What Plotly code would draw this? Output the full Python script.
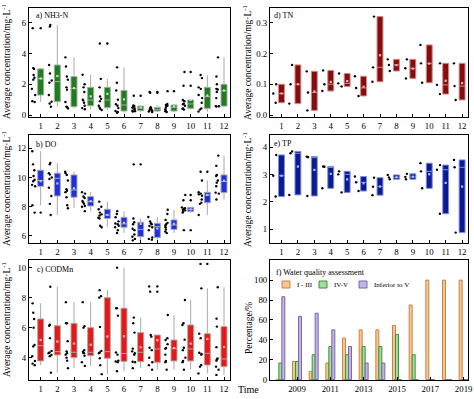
import numpy as np
import plotly.graph_objects as go

# ---------------- data ----------------
months = list(range(1, 13))

# a) NH3-N  (samples per month, mg/L)
nh3n = [
    [0.85, 0.9, 1.3, 1.7, 2.3, 2.42, 2.6, 3.0, 3.05, 5.65],
    [0.54, 0.75, 0.87, 1.3, 2.1, 2.24, 2.7, 3.25, 5.75, 5.85],
    [0.43, 0.5, 0.54, 0.85, 1.65, 1.8, 2.3, 2.5, 3.15, 3.75],
    [0.37, 0.45, 0.6, 0.8, 0.95, 1.0, 1.5, 1.8, 2.0, 2.62],
    [0.33, 0.4, 0.48, 0.6, 0.9, 1.05, 1.2, 1.8, 2.35, 4.65],
    [0.15, 0.2, 0.26, 0.45, 0.6, 0.7, 1.0, 1.6, 2.1, 3.1],
    [0.22, 0.25, 0.28, 0.35, 0.42, 0.48, 0.5, 0.58, 0.62, 1.25],
    [0.2, 0.22, 0.26, 0.3, 0.35, 0.39, 0.45, 0.5, 1.45, 1.5],
    [0.2, 0.25, 0.26, 0.35, 0.45, 0.55, 0.6, 0.65, 0.72, 1.55],
    [0.35, 0.4, 0.43, 0.6, 0.7, 0.74, 0.9, 0.98, 1.9, 2.8],
    [0.22, 0.35, 0.43, 0.8, 1.1, 1.3, 1.7, 1.8, 2.4, 2.6],
    [0.55, 0.57, 0.58, 1.1, 1.5, 1.66, 1.7, 2.0, 2.5, 3.75],
]

# b) DO
do = [
    [7.6, 8.1, 9.4, 9.5, 9.75, 9.85, 10.1, 10.5, 10.9, 11.8],
    [7.44, 8.2, 8.74, 9.3, 9.9, 10.0, 10.2, 10.3, 10.9, 11.0],
    [7.9, 8.1, 8.65, 9.0, 9.1, 9.2, 9.8, 10.18, 10.3, 10.4],
    [7.7, 8.0, 8.05, 8.2, 8.3, 8.4, 8.6, 8.7, 8.9, 9.0],
    [6.6, 6.7, 7.2, 7.25, 7.4, 7.48, 7.6, 7.83, 8.0, 8.35],
    [6.2, 6.4, 6.6, 6.7, 6.8, 6.85, 7.0, 7.28, 7.5, 7.7],
    [5.7, 5.8, 5.95, 6.1, 6.4, 6.5, 6.8, 6.94, 7.2, 10.9],
    [5.75, 5.8, 5.9, 6.4, 6.6, 6.68, 6.8, 6.87, 7.0, 7.3],
    [6.2, 6.3, 6.45, 6.6, 6.7, 6.8, 6.9, 7.1, 7.5, 7.8],
    [6.4, 7.6, 7.67, 7.75, 7.8, 7.85, 7.9, 7.96, 8.45, 8.8],
    [7.44, 8.2, 8.28, 8.5, 8.75, 8.85, 8.9, 8.99, 9.8, 10.4],
    [8.5, 8.9, 8.97, 9.4, 9.65, 9.8, 10.1, 10.18, 10.8, 11.5],
]

# c) CODMn
codmn = [
    [3.5, 3.6, 3.78, 4.1, 4.75, 4.85, 6.0, 6.58, 7.0, 7.62],
    [3.0, 4.1, 4.18, 4.3, 4.35, 4.45, 5.3, 6.13, 6.2, 8.73],
    [3.3, 3.8, 4.0, 4.2, 4.3, 4.42, 5.1, 6.29, 6.3, 7.7],
    [3.45, 3.7, 4.13, 4.3, 4.32, 4.4, 4.5, 6.0, 6.1, 7.7],
    [2.9, 3.5, 3.96, 4.3, 4.35, 4.45, 6.05, 8.0, 8.1, 8.5],
    [3.1, 3.7, 3.75, 3.8, 4.2, 4.35, 6.8, 7.3, 7.3, 10.0],
    [3.3, 3.7, 3.73, 4.2, 4.3, 4.42, 4.6, 5.67, 6.3, 6.67],
    [3.2, 3.5, 3.69, 4.0, 4.5, 4.66, 5.4, 5.51, 8.4, 8.75],
    [3.2, 3.7, 3.78, 4.2, 4.6, 4.64, 4.9, 5.18, 5.3, 6.84],
    [3.2, 3.7, 3.78, 4.0, 4.5, 4.66, 5.2, 6.18, 6.3, 7.84],
    [2.95, 3.4, 3.51, 4.2, 4.25, 4.33, 5.3, 5.6, 8.62, 10.25],
    [2.85, 3.2, 3.4, 3.8, 3.88, 3.94, 4.7, 6.07, 6.6, 8.69],
]

# d) TN
tn = [
    [0.04, 0.07, 0.1],
    [0.037, 0.1, 0.163],
    [0.015, 0.073, 0.142],
    [0.078, 0.1, 0.145],
    [0.093, 0.103, 0.135],
    [0.062, 0.088, 0.126],
    [0.108, 0.155, 0.32],
    [0.143, 0.163, 0.181],
    [0.119, 0.152, 0.181],
    [0.105, 0.168, 0.228],
    [0.068, 0.098, 0.168],
    [0.049, 0.094, 0.168],
]

# e) TP
tp = [
    [2.2, 2.96, 3.72],
    [2.26, 3.78, 3.85],
    [2.22, 3.64, 3.66],
    [2.5, 3.29, 3.3],
    [2.35, 3.01, 3.12],
    [2.4, 2.72, 2.93],
    [2.25, 2.56, 2.89],
    [2.83, 2.9, 2.99],
    [2.83, 2.92, 3.03],
    [2.5, 3.12, 3.42],
    [1.57, 3.18, 3.35],
    [0.88, 3.27, 3.54],
]

# f) water quality assessment (%)
years = list(range(2008, 2020))
year_ticks = [2009, 2011, 2013, 2015, 2017, 2019]
grade_1_3 = [0, 18.2, 8.3, 16.7, 41.7, 50, 50, 54.5, 75, 100, 100, 100]
grade_4_5 = [16.7, 18.2, 25, 33.3, 25, 33.3, 33.3, 45.5, 25, 0, 0, 0]
grade_inf5 = [83.3, 63.6, 66.7, 50, 33.3, 16.7, 16.7, 0, 0, 0, 0, 0]
grade_names = ["I - III", "IV-V", "Inferior to V"]

# ---------------- figure ----------------
W, H = 474, 399
FONT = "Liberation Serif"

def px_x(p):
    return p / W

def px_y(p):
    return 1 - p / H

fig = go.Figure()

def add_box_panel(samples, n, fill, line_col, mean_col):
    xs = [m for m, vals in zip(months, samples) for _ in vals]
    ys = [v for vals in samples for v in vals]
    ax = "" if n == 1 else str(n)
    # jittered sample points on the left of each box
    fig.add_trace(go.Box(
        x=xs, y=ys, xaxis="x" + ax, yaxis="y" + ax,
        boxpoints="all", jitter=0.6, pointpos=-2, width=0.42,
        fillcolor="rgba(0,0,0,0)", line=dict(width=0), whiskerwidth=0,
        marker=dict(color="black", size=2.4), showlegend=False,
        quartilemethod="exclusive", hoveron="points"))
    # the box itself
    fig.add_trace(go.Box(
        x=xs, y=ys, xaxis="x" + ax, yaxis="y" + ax,
        boxpoints="outliers", width=0.36, whiskerwidth=0,
        fillcolor=fill, line=dict(color=line_col, width=1),
        marker=dict(color="black", size=2.4), showlegend=False,
        quartilemethod="exclusive"))
    means = [float(np.mean(v)) for v in samples]
    fig.add_trace(go.Scatter(
        x=months, y=means, xaxis="x" + ax, yaxis="y" + ax, mode="markers",
        marker=dict(symbol="square", size=2.2, color=mean_col),
        showlegend=False))

add_box_panel(nh3n, 1, "#1c7f1c", "#a9a9a9", "#b8e8b8")
add_box_panel(do, 2, "#2030e0", "#a9a9a9", "#b8c4ff")
add_box_panel(codmn, 3, "#e81818", "#a9a9a9", "#ffb8b8")
add_box_panel(tn, 4, "#850d0d", "#d08a8a", "#e8b0b0")
add_box_panel(tp, 5, "#0c1a90", "#7d8ee0", "#b0bcff")

bar_fill = ["#f8c68e", "#a6dba0", "#c2b4e6"]
bar_line = ["#c58548", "#3f8f3f", "#7a68a8"]
for name, vals, fc, lc in zip(grade_names, [grade_1_3, grade_4_5, grade_inf5],
                              bar_fill, bar_line):
    fig.add_trace(go.Bar(
        x=years, y=vals, name=name, xaxis="x6", yaxis="y6", showlegend=False,
        marker=dict(color=fc, line=dict(color=lc, width=1))))

XL = [px_x(29), px_x(230)]
XR = [px_x(270), px_x(468)]
YA = [px_y(117), px_y(8)]
YB = [px_y(243), px_y(135)]
YC = [px_y(380), px_y(260)]

axis_common = dict(showline=True, mirror=True, linecolor="black", linewidth=1,
                   ticks="inside", ticklen=3, tickcolor="black", showgrid=False,
                   zeroline=False, automargin=False,
                   tickfont=dict(family=FONT, size=8.8, color="black"))

def month_axis(domain, anchor):
    return dict(axis_common, domain=domain, anchor=anchor, range=[0.3, 12.36],
                tickmode="array", tickvals=months,
                ticktext=[str(m) for m in months])

fig.update_layout(
    width=W, height=H, margin=dict(l=0, r=0, t=0, b=0),
    paper_bgcolor="white", plot_bgcolor="white",
    font=dict(family=FONT, color="black"), showlegend=False,
    boxmode="overlay", barmode="group", bargap=0.46, bargroupgap=0,
    xaxis=month_axis(XL, "y"),
    yaxis=dict(axis_common, domain=YA, anchor="x", range=[-0.13, 6.96],
               tickvals=[0, 2, 4, 6]),
    xaxis2=month_axis(XL, "y2"),
    yaxis2=dict(axis_common, domain=YB, anchor="x2", range=[5.52, 12.91],
                tickvals=[6, 8, 10, 12]),
    xaxis3=month_axis(XL, "y3"),
    yaxis3=dict(axis_common, domain=YC, anchor="x3", range=[2.51, 10.51],
                tickvals=[4, 6, 8, 10]),
    xaxis4=month_axis(XR, "y4"),
    yaxis4=dict(axis_common, domain=YA, anchor="x4", range=[-0.0065, 0.348],
                tickvals=[0, 0.1, 0.2, 0.3], tickformat=".1f"),
    xaxis5=month_axis(XR, "y5"),
    yaxis5=dict(axis_common, domain=YB, anchor="x5", range=[0.5, 4.45],
                tickvals=[1, 2, 3, 4]),
    xaxis6=dict(axis_common, domain=XR, anchor="y6", range=[2007.38, 2019.26],
                tickvals=year_ticks),
    yaxis6=dict(axis_common, domain=YC, anchor="x6", range=[-0.4, 120.2],
                tickvals=[0, 20, 40, 60, 80, 100]),
)

ytitle = "Average concentration/mg·L<sup>-1</sup>"
annots = [
    # y-axis titles
    (6, 62, ytitle, -90, "center", 9.5),
    (6, 189, ytitle, -90, "center", 9.5),
    (6, 320, ytitle, -90, "center", 9.5),
    (247, 62, ytitle, -90, "center", 9.5),
    (247, 189, ytitle, -90, "center", 9.5),
    (249, 328, "Percentage/%", -90, "center", 9.5),
    # panel labels
    (34, 15, "a) NH3-N", 0, "left", 8),
    (34, 145, "b) DO", 0, "left", 8),
    (35, 269, "c) CODMn", 0, "left", 8),
    (272, 15, "d) TN", 0, "left", 8),
    (272, 143, "e) TP", 0, "left", 8),
    (274, 272, "f) Water quality assessment", 0, "left", 8),
    # shared x title
    (248, 389, "Time", 0, "center", 10),
]
# legend of panel f (swatch left edge, text left edge)
legend_pos = [(282, 295), (319, 332), (359, 372)]
for (sx, tx), name in zip(legend_pos, grade_names):
    annots.append((tx, 284.5, name, 0, "left", 7))

fig.update_layout(annotations=[
    dict(x=px_x(x), y=px_y(y), xref="paper", yref="paper", text=t,
         textangle=a, xanchor=xa, yanchor="middle", showarrow=False,
         font=dict(family=FONT, size=s, color="black"))
    for x, y, t, a, xa, s in annots
])
fig.update_layout(shapes=[
    dict(type="rect", xref="paper", yref="paper",
         x0=px_x(sx), x1=px_x(sx + 8), y0=px_y(288), y1=px_y(281),
         fillcolor=fc, line=dict(color=lc, width=1))
    for (sx, tx), fc, lc in zip(legend_pos, bar_fill, bar_line)
])

fig.write_html("out.html",
               config={"displayModeBar": False},
               post_script="document.body.style.margin='0px';"
                           "document.body.style.padding='0px';")
